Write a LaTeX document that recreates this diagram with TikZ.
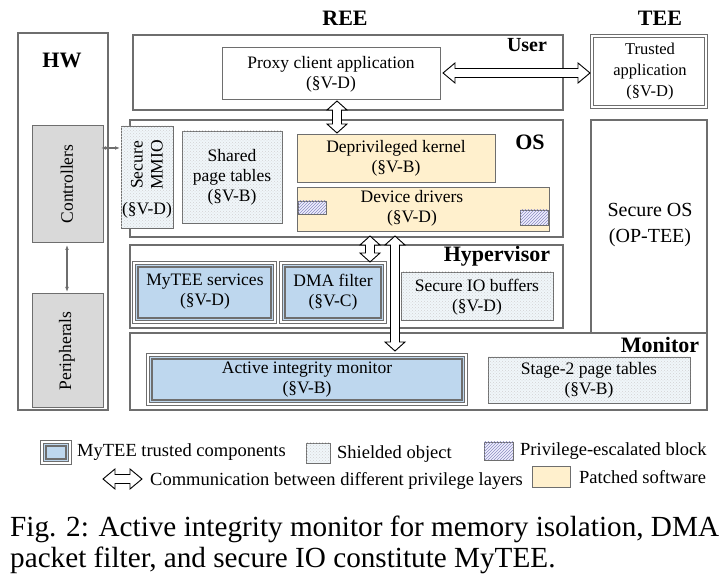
\documentclass[tikz,border=0pt]{standalone}
\usepackage{fontspec}
\setmainfont{Liberation Serif}
\usetikzlibrary{patterns,arrows.meta}
\definecolor{gbor}{RGB}{110,110,110}
\definecolor{yel}{RGB}{255,240,205}
\definecolor{blu}{RGB}{190,215,238}
\definecolor{shd}{RGB}{240,246,250}
\tikzset{
 lay/.style={draw=gbor,line width=1.6pt},
 txt/.style={font=\fontsize{17.5}{20}\selectfont,align=center,inner sep=0},
 ttl/.style={font=\fontsize{22}{24}\selectfont\bfseries,inner sep=0},
 leg/.style={txt,anchor=west,font=\fontsize{18.5}{20}\selectfont},
 gray box/.style={draw=gbor,fill=gray!30,line width=1pt},
 shield/.style={draw=gbor,fill=shd,postaction={pattern=crosshatch dots,pattern color=gray!35},line width=0.8pt},
 patch/.style={draw=gbor,fill=yel,line width=0.8pt},
 hatch/.style={draw=gbor,fill=blue!6,postaction={pattern=north east lines,pattern color=blue!30!gray!70},line width=0.6pt},
 trusted/.style={draw=gbor,fill=blu,line width=1.2pt,double=white,double distance=1.2pt},
 tru/.style={draw=gbor,fill=blu,line width=2.4pt},
 garrow/.style={gbor,line width=1.2pt,{Latex[length=5pt]}-{Latex[length=5pt]}},
 hol/.style={draw=black,fill=white,line width=0.9pt}
}
\newcommand{\hv}[4]{% x, y1, y2, halfwidth
 \filldraw[hol] (#1-#4*0.45,#2+9) -- (#1-#4,#2+9) -- (#1,#2) -- (#1+#4,#2+9) -- (#1+#4*0.45,#2+9) -- (#1+#4*0.45,#3-9) -- (#1+#4,#3-9) -- (#1,#3) -- (#1-#4,#3-9) -- (#1-#4*0.45,#3-9) -- cycle;}
\newcommand{\hh}[4]{% y, x1, x2, halfheight
 \filldraw[hol] (#2+12,#1-#4*0.45) -- (#2+12,#1-#4) -- (#2,#1) -- (#2+12,#1+#4) -- (#2+12,#1+#4*0.45) -- (#3-12,#1+#4*0.45) -- (#3-12,#1+#4) -- (#3,#1) -- (#3-12,#1-#4) -- (#3-12,#1-#4*0.45) -- cycle;}
\begin{document}
\begin{tikzpicture}[x=1pt,y=-1pt]
\useasboundingbox (0,0) rectangle (724,585);
\fill[white] (0,0) rectangle (724,585);
% HW
\draw[lay] (18,33) rectangle (108,410);
\node[ttl] (hw) at (62,60) {HW};
\draw[gray box] (32,126) rectangle (103,243);
\node[txt,rotate=90] (ctl) at (67,184) {Controllers};
\draw[gray box] (32,294) rectangle (103,408);
\node[txt,rotate=90] (per) at (67,351) {Peripherals};
\coordinate (c1) at (67,245); \coordinate (c2) at (67,292);
\draw[garrow] (c1) -- (c2);
% titles
\node[ttl] (ree) at (345,18) {REE};
\node[ttl] (tee) at (660,18) {TEE};
% User
\draw[lay] (133,35) rectangle (563,110);
\node[ttl,font=\fontsize{20}{22}\selectfont\bfseries] (user) at (527,45) {User};
\draw[draw=gbor,line width=1pt] (222,48) rectangle (440,100);
\node[txt] (proxy) at (331,74) {Proxy client application\\(§V-D)};
\draw[draw=gbor,line width=1pt,double=white,double distance=1.5pt] (592,36) rectangle (706,107);
\node[txt,font=\fontsize{16.5}{21}\selectfont] (tapp) at (650,72) {Trusted\\application\\(§V-D)};
% OS
\draw[lay] (130,120) rectangle (563,237);
\node[ttl] (os) at (530,142) {OS};
\draw[shield] (121,126) rectangle (173,228);
\node[txt,rotate=90] (mmio) at (147,165) {Secure\\MMIO};
\node[txt] (mmio2) at (147,210) {(§V-D)};
\draw[shield] (182,131) rectangle (282,223);
\node[txt] (spt) at (232,177) {Shared\\page tables\\(§V-B)};
\draw[patch] (297,134) rectangle (495,182);
\node[txt] (dk) at (396,158) {Deprivileged kernel\\(§V-B)};
\draw[patch] (297,187) rectangle (549,231);
\node[txt] (dd) at (412,208) {Device drivers\\(§V-D)};
\draw[hatch] (298,201) rectangle (326,214);
\draw[hatch] (520,210) rectangle (548,225);
\coordinate (a1) at (101,148); \coordinate (a2) at (120,148);
\draw[garrow] (a1) -- (a2);
% Secure OS
\draw[lay] (591,120) rectangle (707,333);
\node[txt,font=\fontsize{20}{26}\selectfont] (sos) at (650,225) {Secure OS\\(OP-TEE)};
% Hypervisor
\draw[lay] (130,245) rectangle (563,328);
\node[ttl] (hyp) at (497,256) {Hypervisor};
\draw[trusted] (134,263) rectangle (275,322);
\draw[tru] (138,267) rectangle (271,318);
\node[txt] (svc) at (205,292) {MyTEE services\\(§V-D)};
\draw[trusted] (281,263) rectangle (385,322);
\draw[tru] (285,267) rectangle (381,318);
\node[txt] (dma) at (333,292) {DMA filter\\(§V-C)};
\draw[shield] (401,272) rectangle (553,320);
\node[txt] (sio) at (477,297) {Secure IO buffers\\(§V-D)};
% Monitor
\draw[lay] (130,333) rectangle (707,410);
\node[ttl] (mon) at (660,345) {Monitor};
\draw[trusted] (148,355) rectangle (466,404);
\draw[tru] (152,359) rectangle (462,400);
\node[txt] (aim) at (307,380) {Active integrity monitor\\(§V-B)};
\draw[shield] (488,357) rectangle (690,403);
\node[txt] (s2) at (589,380) {Stage-2 page tables\\(§V-B)};
% hollow arrows
\hv{337}{101}{133}{10}
\hv{370}{236}{262}{10}
\hv{395}{236}{351}{10}
\hh{73}{443}{590}{10}
% legend
\draw[trusted] (42,442) rectangle (70,463);
\draw[tru] (46,446) rectangle (66,459);
\node[leg] (l1) at (77,452) {MyTEE trusted components};
\draw[shield] (306,443) rectangle (330,463);
\node[leg] (l2) at (337,454) {Shielded object};
\draw[hatch] (484,442) rectangle (513,460);
\node[leg] (l3) at (520,451) {Privilege-escalated block};
\hh{479}{103}{142}{10}
\node[leg] (l4) at (150,481) {Communication between different privilege layers};
\draw[patch] (532,466) rectangle (570,487);
\node[leg] (l5) at (579,477) {Patched software};
% caption
\node[inner sep=0,anchor=west,font=\fontsize{29.2}{31}\selectfont,align=left] (cap) at (10,545) {Fig. 2: Active integrity monitor for memory isolation, DMA\\packet filter, and secure IO constitute MyTEE.};
\end{tikzpicture}
\end{document}
